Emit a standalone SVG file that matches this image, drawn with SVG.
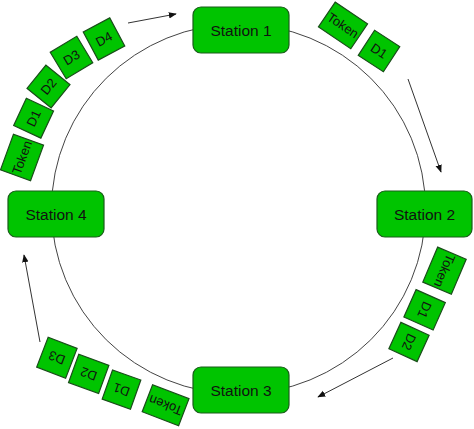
<svg xmlns="http://www.w3.org/2000/svg" width="474" height="429" viewBox="0 0 474 429">
<defs>
<style>
.st rect{fill:#00c400;stroke:#1a5c1a;stroke-width:1.2}
.st text{font-family:"Liberation Sans",Arial,sans-serif;font-size:15.5px;fill:#111;text-anchor:middle;dominant-baseline:central}
.pk rect{fill:#00c400;stroke:#1a4d1a;stroke-width:1.2}
.pk text{font-family:"Liberation Sans",Arial,sans-serif;font-size:13px;fill:#111;text-anchor:middle;dominant-baseline:central}
.ring{fill:none;stroke:#444;stroke-width:1}
.arr{stroke:#333;stroke-width:1;fill:none;marker-end:url(#ah)}
</style>
<marker id="ah" viewBox="0 0 10 10" refX="9" refY="5" markerWidth="8" markerHeight="8" markerUnits="userSpaceOnUse" orient="auto">
<path d="M0,1 L10,5 L0,9 z" fill="#111"/>
</marker>
</defs>
<rect width="474" height="429" fill="#fff"/>
<g id="connectors">
<ellipse class="ring" cx="238.5" cy="209" rx="187" ry="185"/>
<line class="arr" x1="128" y1="23" x2="176" y2="14"/>
<line class="arr" x1="408" y1="79" x2="441" y2="172"/>
<line class="arr" x1="393" y1="358" x2="318" y2="397"/>
<line class="arr" x1="40" y1="342" x2="24" y2="255"/>
</g>
<g id="station1" class="st"><rect x="193" y="7" width="96" height="46" rx="8"/><text x="241" y="30">Station 1</text></g>
<g id="station2" class="st"><rect x="377" y="191" width="95" height="46" rx="8"/><text x="424.5" y="214">Station 2</text></g>
<g id="station3" class="st"><rect x="193" y="367" width="96" height="46" rx="8"/><text x="241" y="390">Station 3</text></g>
<g id="station4" class="st"><rect x="8" y="191" width="96" height="46" rx="8"/><text x="56" y="214">Station 4</text></g>

<g id="s4-token" class="pk" transform="translate(22,157.5) rotate(-70)"><rect x="-19" y="-16" width="38" height="32"/><text x="0" y="0">Token</text></g>
<g id="s4-d1" class="pk" transform="translate(33.6,118.2) rotate(-65)"><rect x="-15" y="-15" width="30" height="30"/><text x="0" y="0">D1</text></g>
<g id="s4-d2" class="pk" transform="translate(48.5,86.5) rotate(-51)"><rect x="-15" y="-15.5" width="30" height="31"/><text x="0" y="0">D2</text></g>
<g id="s4-d3" class="pk" transform="translate(71.5,57.5) rotate(-31)"><rect x="-15.5" y="-15.5" width="31" height="31"/><text x="0" y="0">D3</text></g>
<g id="s4-d4" class="pk" transform="translate(104,39) rotate(-28)"><rect x="-15" y="-16" width="30" height="32"/><text x="0" y="0">D4</text></g>

<g id="s1-token" class="pk" transform="translate(343,25.4) rotate(34)"><rect x="-19.5" y="-15" width="39" height="30"/><text x="0" y="0">Token</text></g>
<g id="s1-d1" class="pk" transform="translate(379,51) rotate(33)"><rect x="-15" y="-15" width="30" height="30"/><text x="0" y="0">D1</text></g>

<g id="s2-token" class="pk" transform="translate(444.5,270.7) rotate(113)"><rect x="-19" y="-15.5" width="38" height="31"/><text x="0" y="0">Token</text></g>
<g id="s2-d1" class="pk" transform="translate(424.6,309.8) rotate(114)"><rect x="-15" y="-16" width="30" height="32"/><text x="0" y="0">D1</text></g>
<g id="s2-d2" class="pk" transform="translate(409,342) rotate(114.5)"><rect x="-14.5" y="-15.5" width="29" height="31"/><text x="0" y="0">D2</text></g>

<g id="s3-token" class="pk" transform="translate(165.6,405.2) rotate(201)"><rect x="-19.5" y="-14.5" width="39" height="29"/><text x="0" y="0">Token</text></g>
<g id="s3-d1" class="pk" transform="translate(121.5,389.6) rotate(199.5)"><rect x="-15" y="-15.5" width="30" height="31"/><text x="0" y="0">D1</text></g>
<g id="s3-d2" class="pk" transform="translate(88.7,373.9) rotate(200)"><rect x="-16" y="-15" width="32" height="30"/><text x="0" y="0">D2</text></g>
<g id="s3-d3" class="pk" transform="translate(56.9,357.7) rotate(201)"><rect x="-15.5" y="-16" width="31" height="32"/><text x="0" y="0">D3</text></g>
</svg>
